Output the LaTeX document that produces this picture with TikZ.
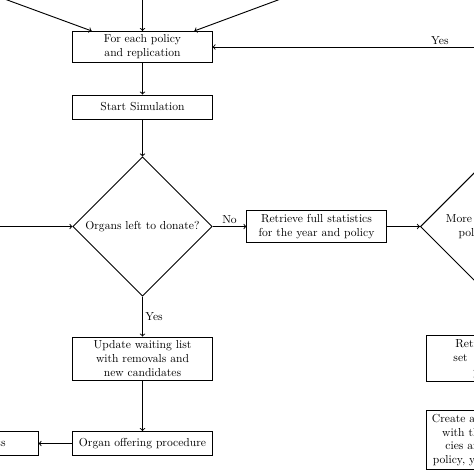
\documentclass[tikz,border=0pt]{standalone}
\usetikzlibrary{shapes.geometric,calc}
\begin{document}
\begin{tikzpicture}[x=0.862pt,y=-0.862pt,
  box/.style={draw, thick, minimum width=120pt, minimum height=20.7pt, align=center, inner sep=3pt},
  dia/.style={draw, thick, diamond, aspect=1, minimum width=120pt, minimum height=120pt, inner sep=0pt, align=center},
  arr/.style={->, thick},
  lab/.style={inner sep=2pt}]
\useasboundingbox (0,0) rectangle (474,474);
\clip (0,0) rectangle (474,474);
\node[box] (fe) at (142.5,47) {For each policy\\and replication};
\node[box] (ss) at (142.5,107) {Start Simulation};
\node[dia] (od) at (142.5,226.5) {Organs left to donate?};
\node[box] (rf) at (316.5,226.5) {Retrieve full statistics\\for the year and policy};
\node[dia] (mr) at (490,226.5) {More replications\\policies left?};
\node[box] (uw) at (142.5,358.5) {Update waiting list\\with removals and\\new candidates};
\node[box] (oo) at (142.5,443.5) {Organ offering procedure};
\node[box] (us) at (-31.5,443.5) {Update results};
\node[box] (rs) at (496.5,358.5) {Retrieve the full\\set\hspace{1.2em}of statistics\\produced};
\node[box, anchor=north] (cr) at (496.5,410) {Create a summary report\\with the results of all\\cies and the average\\policy, year and iteration};
\coordinate (t1) at (-20,-10);
\coordinate (t2) at (142.5,-10);
\coordinate (t3) at (305,-10);
\coordinate (yr) at (480,47);
\coordinate (lf) at (-5,226.5);
\draw[arr] (t1) -- ($(fe.north west)!0.137!(fe.north east)$);
\draw[arr] (t2) -- (fe);
\draw[arr] (t3) -- ($(fe.north west)!0.87!(fe.north east)$);
\draw[arr] (yr) -- node[lab, above, pos=0.15]{Yes} (fe);
\draw[arr] (fe) -- (ss);
\draw[arr] (ss) -- (od);
\draw[arr] (lf) -- (od);
\draw[arr] (od) -- node[lab, above]{No} (rf);
\draw[arr] (rf) -- (mr);
\draw[arr] (od) -- node[lab, right]{Yes} (uw);
\draw[arr] (uw) -- (oo);
\draw[arr] (oo) -- (us);
\end{tikzpicture}
\end{document}
